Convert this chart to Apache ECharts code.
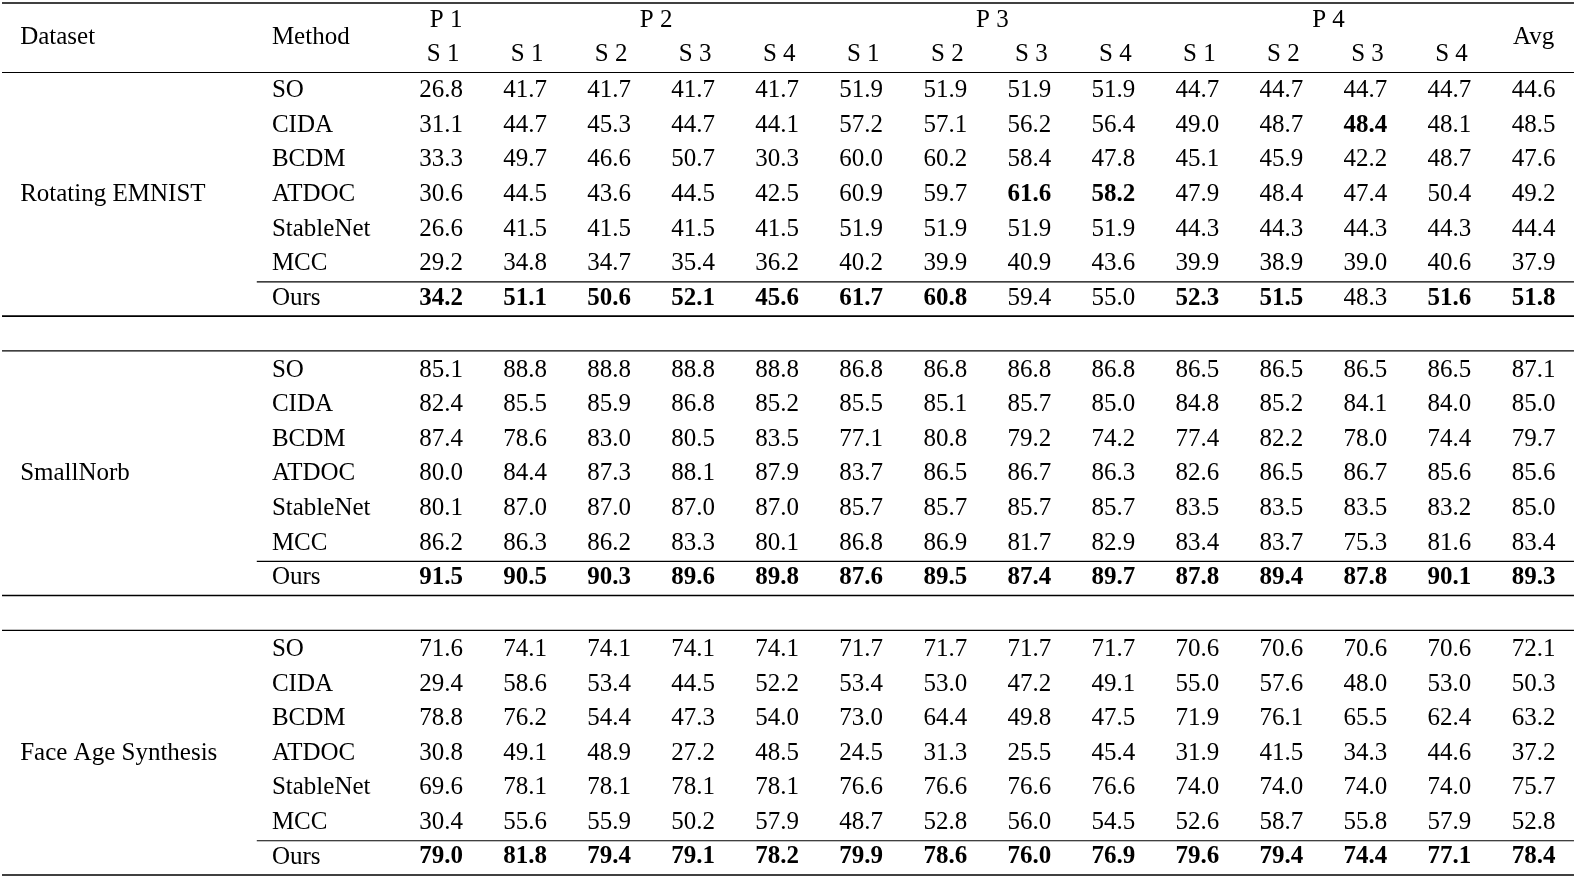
<!DOCTYPE html>
<html>
<head>
<meta charset="utf-8">
<script src="https://cdn.jsdelivr.net/npm/echarts@6/dist/echarts.min.js"></script>
<style>html,body{margin:0;background:#fff;overflow:hidden}#chart{width:1579px;height:880px}</style>
</head>
<body>
<div id="chart"></div>
<script>
// table contents
var phases = ['P 1', 'P 2', 'P 3', 'P 4'];
var phaseSpan = [[0, 0], [1, 4], [5, 8], [9, 12]];
var steps = ['S 1', 'S 1', 'S 2', 'S 3', 'S 4', 'S 1', 'S 2', 'S 3', 'S 4', 'S 1', 'S 2', 'S 3', 'S 4'];
var datasets = ['Rotating EMNIST', 'SmallNorb', 'Face Age Synthesis'];
var methods = ['SO', 'CIDA', 'BCDM', 'ATDOC', 'StableNet', 'MCC', 'Ours'];

var emnist = [
  [26.8, 41.7, 41.7, 41.7, 41.7, 51.9, 51.9, 51.9, 51.9, 44.7, 44.7, 44.7, 44.7, 44.6],
  [31.1, 44.7, 45.3, 44.7, 44.1, 57.2, 57.1, 56.2, 56.4, 49.0, 48.7, 48.4, 48.1, 48.5],
  [33.3, 49.7, 46.6, 50.7, 30.3, 60.0, 60.2, 58.4, 47.8, 45.1, 45.9, 42.2, 48.7, 47.6],
  [30.6, 44.5, 43.6, 44.5, 42.5, 60.9, 59.7, 61.6, 58.2, 47.9, 48.4, 47.4, 50.4, 49.2],
  [26.6, 41.5, 41.5, 41.5, 41.5, 51.9, 51.9, 51.9, 51.9, 44.3, 44.3, 44.3, 44.3, 44.4],
  [29.2, 34.8, 34.7, 35.4, 36.2, 40.2, 39.9, 40.9, 43.6, 39.9, 38.9, 39.0, 40.6, 37.9],
  [34.2, 51.1, 50.6, 52.1, 45.6, 61.7, 60.8, 59.4, 55.0, 52.3, 51.5, 48.3, 51.6, 51.8]
];
var smallnorb = [
  [85.1, 88.8, 88.8, 88.8, 88.8, 86.8, 86.8, 86.8, 86.8, 86.5, 86.5, 86.5, 86.5, 87.1],
  [82.4, 85.5, 85.9, 86.8, 85.2, 85.5, 85.1, 85.7, 85.0, 84.8, 85.2, 84.1, 84.0, 85.0],
  [87.4, 78.6, 83.0, 80.5, 83.5, 77.1, 80.8, 79.2, 74.2, 77.4, 82.2, 78.0, 74.4, 79.7],
  [80.0, 84.4, 87.3, 88.1, 87.9, 83.7, 86.5, 86.7, 86.3, 82.6, 86.5, 86.7, 85.6, 85.6],
  [80.1, 87.0, 87.0, 87.0, 87.0, 85.7, 85.7, 85.7, 85.7, 83.5, 83.5, 83.5, 83.2, 85.0],
  [86.2, 86.3, 86.2, 83.3, 80.1, 86.8, 86.9, 81.7, 82.9, 83.4, 83.7, 75.3, 81.6, 83.4],
  [91.5, 90.5, 90.3, 89.6, 89.8, 87.6, 89.5, 87.4, 89.7, 87.8, 89.4, 87.8, 90.1, 89.3]
];
var faceage = [
  [71.6, 74.1, 74.1, 74.1, 74.1, 71.7, 71.7, 71.7, 71.7, 70.6, 70.6, 70.6, 70.6, 72.1],
  [29.4, 58.6, 53.4, 44.5, 52.2, 53.4, 53.0, 47.2, 49.1, 55.0, 57.6, 48.0, 53.0, 50.3],
  [78.8, 76.2, 54.4, 47.3, 54.0, 73.0, 64.4, 49.8, 47.5, 71.9, 76.1, 65.5, 62.4, 63.2],
  [30.8, 49.1, 48.9, 27.2, 48.5, 24.5, 31.3, 25.5, 45.4, 31.9, 41.5, 34.3, 44.6, 37.2],
  [69.6, 78.1, 78.1, 78.1, 78.1, 76.6, 76.6, 76.6, 76.6, 74.0, 74.0, 74.0, 74.0, 75.7],
  [30.4, 55.6, 55.9, 50.2, 57.9, 48.7, 52.8, 56.0, 54.5, 52.6, 58.7, 55.8, 57.9, 52.8],
  [79.0, 81.8, 79.4, 79.1, 78.2, 79.9, 78.6, 76.0, 76.9, 79.6, 79.4, 74.4, 77.1, 78.4]
];
var tables = [emnist, smallnorb, faceage];
// bold cells: [dataset, row, col]
var boldCells = [[0, 1, 11], [0, 3, 7], [0, 3, 8]];
var notBold = [[0, 6, 7], [0, 6, 8], [0, 6, 11]];

// layout
var FONT = 'Liberation Serif';
var colX = function (c) { return 438 + 83.45 * c; };
var rowY = function (g, r) { return 90 + 277.5 * g + 34.35 * r; };

function isIn(list, g, r, c) {
  return list.some(function (b) { return b[0] === g && b[1] === r && b[2] === c; });
}

var cells = [];
cells.push([20, 37, 'Dataset', 0, 'left']);
cells.push([270, 37, 'Method', 0, 'left']);
phases.forEach(function (p, i) {
  cells.push([(colX(phaseSpan[i][0]) + colX(phaseSpan[i][1])) / 2 + 5, 20, p, 0, 'center']);
});
steps.forEach(function (s, i) { cells.push([colX(i) + 2, 54, s, 0, 'center']); });
cells.push([colX(13), 37, 'Avg', 0, 'center']);

tables.forEach(function (t, g) {
  cells.push([20, rowY(g, 3), datasets[g], 0, 'left']);
  methods.forEach(function (m, r) {
    cells.push([270, rowY(g, r), m, 0, 'left']);
    t[r].forEach(function (v, c) {
      var bold = (r === 6 && !isIn(notBold, g, r, c)) || isIn(boldCells, g, r, c);
      cells.push([colX(c), rowY(g, r), v.toFixed(1), bold ? 1 : 0, 'center']);
    });
  });
});

var rules = [[2, 1563, 3, 1.6], [2, 1563, 72, 1.2]];
datasets.forEach(function (d, g) {
  var base = 89 + 277.5 * g;
  if (g > 0) rules.push([2, 1563, base - 18, 1.2]);
  rules.push([255, 1563, base + 191, 1.2]);
  rules.push([2, 1563, base + 225, 1.6]);
});

var chart = echarts.init(document.getElementById('chart'));
chart.setOption({
  animation: false,
  grid: { left: 0, right: 0, top: 0, bottom: 0 },
  xAxis: { type: 'value', min: 0, max: 1568, show: false },
  yAxis: { type: 'value', min: 0, max: 874, inverse: true, show: false },
  series: [
    {
      type: 'custom',
      data: rules,
      renderItem: function (params, api) {
        var a = api.coord([api.value(0), api.value(2)]);
        var b = api.coord([api.value(1), api.value(2)]);
        return {
          type: 'line',
          shape: { x1: a[0], y1: a[1], x2: b[0], y2: b[1] },
          style: { stroke: '#000', lineWidth: api.value(3) }
        };
      }
    },
    {
      type: 'custom',
      data: cells,
      dimensions: ['x', 'y', 'text', 'bold', 'align'],
      renderItem: function (params, api) {
        var d = cells[params.dataIndex];
        var p = api.coord([d[0], d[1]]);
        return {
          type: 'text',
          x: p[0], y: p[1],
          style: {
            text: d[2],
            fill: '#000',
            font: (d[3] ? 'bold ' : '') + '25px "' + FONT + '"',
            align: d[4],
            verticalAlign: 'middle'
          }
        };
      }
    }
  ]
});
</script>
</body>
</html>
